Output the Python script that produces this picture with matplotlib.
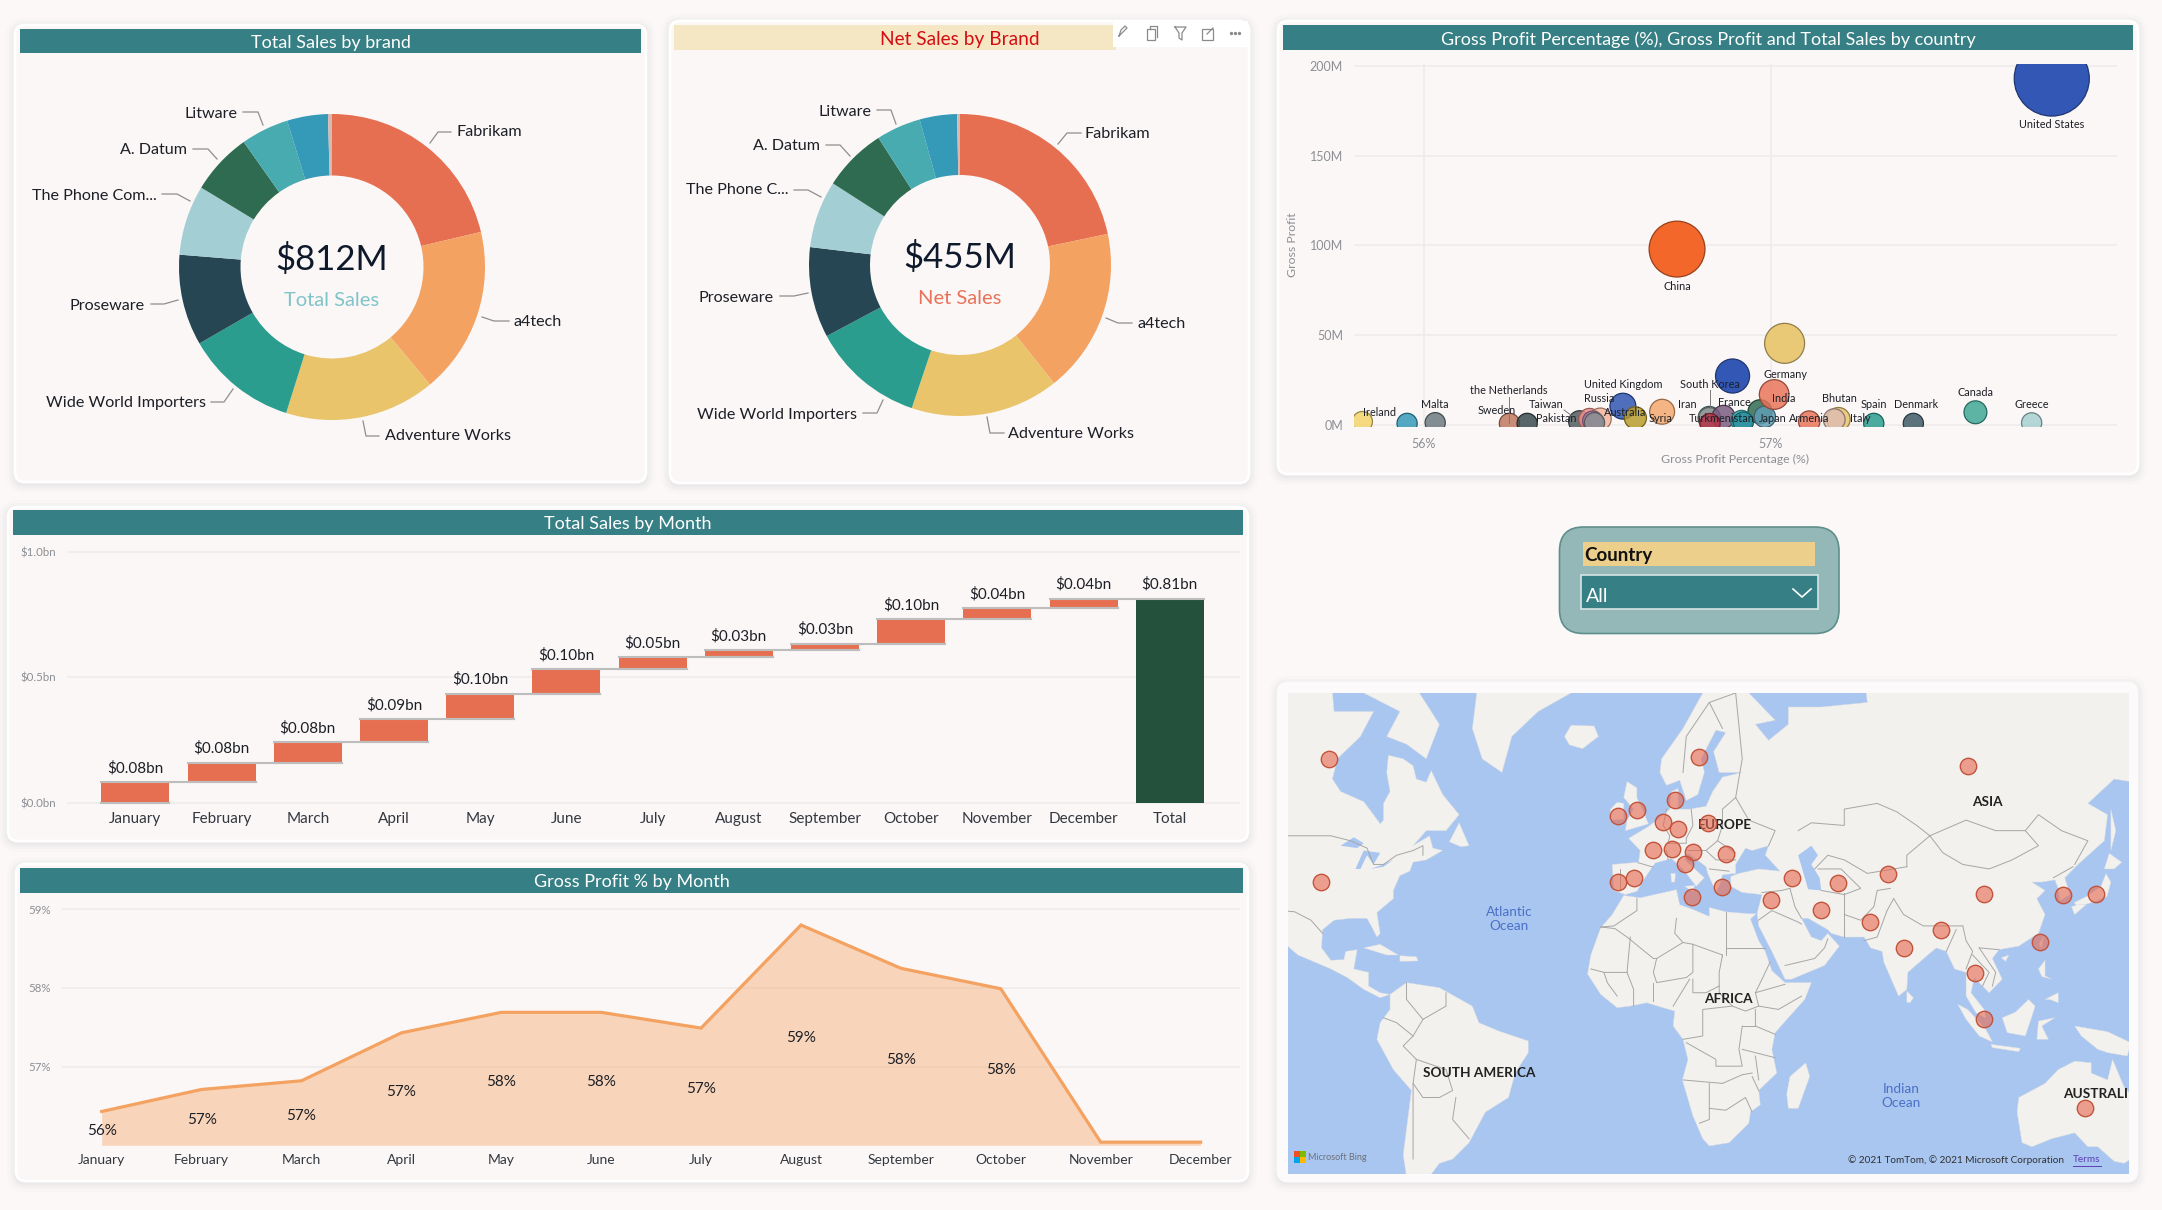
import numpy as np
import matplotlib
matplotlib.use("Agg")
import matplotlib.pyplot as plt
from matplotlib.patches import FancyBboxPatch, Rectangle, Polygon
from matplotlib.colors import to_rgba, to_rgb

plt.rcParams['font.family'] = ['Lato', 'DejaVu Sans']

W, H = 2162, 1210
PAGE = '#FBF8F7'
PANEL = '#FBF7F6'
TEAL = '#367F84'
INK = '#1C1F26'
GRID = '#EFEDEB'
TICK = '#8C8F94'

# ---------- data ----------
brands = ['Fabrikam', 'a4tech', 'Adventure Works', 'Wide World Importers', 'Proseware',
          'The Phone Company', 'A. Datum', 'Litware', 'Northwind', 'Contoso']
total_sales_brand = [173, 143, 129, 96, 78, 60, 53, 41, 35, 3.4]
net_sales_brand = [98.7, 80.1, 72.2, 54.7, 44.1, 32.7, 31.1, 21.7, 18.2, 1.4]
brand_colors = ['#E76F51', '#F4A261', '#E9C46A', '#2A9D8F', '#264653',
                '#A3CFD4', '#2E6B50', '#47ABB0', '#3599B8', '#D9B8B0']

months = ['January', 'February', 'March', 'April', 'May', 'June', 'July', 'August',
          'September', 'October', 'November', 'December']
monthly_sales_bn = [.082, .078, .080, .094, .101, .098, .048, .027, .026, .097, .043, .039]
gross_profit_pct = [56.43, 56.71, 56.82, 57.43, 57.69, 57.69, 57.49, 58.80, 58.25, 57.99, 56.04, 56.04]
gross_profit_lbl = ['56%', '57%', '57%', '57%', '58%', '58%', '57%', '59%', '58%', '58%', '', '']

bubble_country = ['Ireland', 'Portugal', 'Malta', 'the Netherlands', 'Sweden', 'Taiwan', 'Russia',
                  'Poland', 'Austria', 'Pakistan', 'United Kingdom', 'Australia', 'Syria', 'Iran',
                  'South Korea', 'Switzerland', 'Turkmenistan', 'Thailand', 'Singapore', 'Romania',
                  'Japan', 'Armenia', 'Bhutan', 'Italy', 'Spain', 'Denmark', 'Canada', 'Greece',
                  'India', 'France', 'Germany', 'China', 'United States']
bubble_gpp = [55.823, 55.952, 56.033, 56.247, 56.298, 56.449, 56.478, 56.509, 56.487, 56.492, 56.574,
              56.610, 56.687, 56.823, 56.823, 56.864, 56.825, 56.969, 56.916, 56.921, 56.983, 57.111,
              57.195, 57.183, 57.297, 57.411, 57.590, 57.752, 57.010, 56.890, 57.040, 56.730, 57.810]
bubble_gp = [1.9, 0.9, 1.3, 0.9, 0.9, 1.9, 3.2, 3.4, 2.2, 1.3, 10.5,
             4.0, 7.4, 4.2, 3.6, 4.6, 0.8, 7.4, 2.2, 1.6, 4.6, 1.9,
             3.2, 3.0, 0.9, 0.9, 7.1, 1.2, 17.0, 27.3, 45.5, 98.0, 193.0]
bubble_sales = [25, 25, 25, 25, 25, 29, 29, 29, 25, 25, 41, 30, 38, 30, 30, 32, 25, 35, 28, 25, 28, 28,
                34, 29, 25, 25, 32, 25, 54, 71, 98, 191, 345]
bubble_color = ['#F4D56A', '#3599B8', '#6B7A7E', '#C0785F', '#3A4A4E', '#4F5B5E', '#F08F88',
                '#F4B59A', '#B07CB0', '#8A8F90', '#2E54B0', '#B89B2C', '#F4A86E', '#4F8A8E',
                '#9A9A9A', '#7A5A80', '#B5344A', '#2F6B50', '#3AB0B0', '#2A8FA0', '#5F9DB5',
                '#E8745A', '#E8C46A', '#DDBDB0', '#2A9D8F', '#3E5A66', '#3FA796', '#A8D0D0',
                '#E8745A', '#3257B5', '#E9C976', '#F4672A', '#3257B5']

map_lon = [-95.6, -98, 17, 98.7, 9.5, -7.7, -2, 6, 10.6, 19.6, 2.8, 8.7, 15, 12.5, 25, -3, -7.7, 24, 14.7,
           45, 38.6, 54, 59, 74.4, 68.7, 79.2, 90.3, 103.4, 100.6, 120.5, 127.3, 137.5, 103.4, 134]
map_lat = [62, 39, 62.2, 60.9, 55.6, 52.7, 53.8, 51.6, 50.4, 51.5, 46.1, 46.3, 45.6, 43, 45.2, 39.9, 39.1, 37.8, 35.5,
           39.9, 34.6, 32.2, 38.7, 40.9, 29, 22, 27, 36.1, 14.9, 23.7, 36, 36.1, 1.2, -25]

# ---------- layout helpers ----------
fig = plt.figure(figsize=(W / 100, H / 100), dpi=100, facecolor=PAGE)


def px_axes(x0, y0, x1, y1, z=1):
    ax = fig.add_axes([x0 / W, 1 - y1 / H, (x1 - x0) / W, (y1 - y0) / H], zorder=z)
    return ax


bg = px_axes(0, 0, W, H, 0)
bg.set_xlim(0, W); bg.set_ylim(H, 0); bg.axis('off')
fg = px_axes(0, 0, W, H, 5)
fg.set_xlim(0, W); fg.set_ylim(H, 0); fg.axis('off'); fg.patch.set_alpha(0)


def panel(x0, y0, x1, y1, face=PANEL, edge='white', shadow='#6E7A8C', rad=10):
    for g, a in zip((9, 6, 4, 2), (.018, .022, .028, .035)):
        bg.add_patch(FancyBboxPatch((x0 - g, y0 - g + 2), x1 - x0 + 2 * g, y1 - y0 + 2 * g,
                                    boxstyle=f'round,pad=0,rounding_size={rad + g}',
                                    fc=shadow, ec='none', alpha=a))
    bg.add_patch(FancyBboxPatch((x0, y0), x1 - x0, y1 - y0, boxstyle=f'round,pad=0,rounding_size={rad}',
                                fc=face, ec=edge, lw=2))


def title(x0, y0, x1, y1, text, fc=TEAL, color='white', tx=None, size=13):
    bg.add_patch(Rectangle((x0, y0), x1 - x0, y1 - y0, fc=fc, ec='none'))
    fg.text(tx if tx else (x0 + x1) / 2, (y0 + y1) / 2 + 2, text, color=color, fontsize=size, ha='center', va='center')


panel(15, 25, 646, 482)
panel(670, 21, 1249, 483)
panel(1278, 21, 2138, 474)
panel(8, 507, 1248, 841)
panel(16, 864, 1248, 1181)
panel(1278, 683, 2137, 1181, face='#FCFAFA', edge='#FCFAFA')

title(20, 29, 641, 53, 'Total Sales by brand')
title(674, 25, 1116, 50, 'Net Sales by Brand', fc='#F6E7C4', color='#D40D12', tx=960, size=13.8)
title(1283, 25, 2133, 50, 'Gross Profit Percentage (%), Gross Profit and Total Sales by country', size=13)
title(13, 510, 1243, 535, 'Total Sales by Month')
title(20, 868, 1243, 893, 'Gross Profit % by Month')


# ---------- donuts ----------
def donut(cx, cy, ro, ri, vals, big, small, small_col, labels):
    ax = px_axes(cx - ro, cy - ro, cx + ro, cy + ro)
    ax.pie(vals, colors=brand_colors, startangle=90, counterclock=False, radius=1,
           wedgeprops=dict(width=1 - ri / ro, linewidth=0))
    ax.set_xlim(-1, 1); ax.set_ylim(-1, 1); ax.set_aspect('equal')
    fg.text(cx, cy - 8, big, fontsize=25, color='#0E1A2B', ha='center', va='center')
    fg.text(cx, cy + 33, small, fontsize=14.5, color=small_col, ha='center', va='center')
    for txt, tx, ty, ha, pts in labels:
        fg.text(tx, ty + 1.5, txt, fontsize=11.6, color=INK, ha=ha, va='center')
        fg.plot(*zip(*pts), color='#8E8E8E', lw=.9)


donut(332, 267, 153, 91.5, total_sales_brand, '$812M', 'Total Sales', '#7FC4C9', [
    ('Fabrikam', 457, 131, 'left', [(430, 143), (438, 132), (451, 132)]),
    ('a4tech', 514, 321, 'left', [(482, 317), (494, 321), (509, 321)]),
    ('Adventure Works', 385, 435, 'left', [(363, 421), (366, 436), (379, 436)]),
    ('Wide World Importers', 206, 401, 'right', [(233, 389), (224, 402), (211, 402)]),
    ('Proseware', 145, 304, 'right', [(178, 300), (164, 304), (151, 304)]),
    ('The Phone Com...', 157, 194, 'right', [(190, 201), (177, 194), (162, 194)]),
    ('A. Datum', 187, 148, 'right', [(217, 159), (208, 149), (193, 149)]),
    ('Litware', 238, 112, 'right', [(263, 125), (258, 112), (243, 112)]),
])
donut(960, 265, 151, 90, net_sales_brand, '$455M', 'Net Sales', '#E8735A', [
    ('Fabrikam', 1085, 133, 'left', [(1058, 144), (1067, 133), (1081, 133)]),
    ('a4tech', 1138, 322, 'left', [(1106, 318), (1118, 323), (1132, 323)]),
    ('Adventure Works', 1008, 432, 'left', [(987, 417), (990, 433), (1004, 433)]),
    ('Wide World Importers', 857, 413, 'right', [(883, 400), (877, 413), (863, 413)]),
    ('Proseware', 774, 296, 'right', [(808, 293), (794, 296), (780, 296)]),
    ('The Phone C...', 789, 189, 'right', [(821, 197), (808, 190), (794, 190)]),
    ('A. Datum', 820, 145, 'right', [(850, 156), (840, 145), (826, 145)]),
    ('Litware', 871, 110, 'right', [(896, 124), (891, 110), (877, 110)]),
])

# header icons of the focused visual
bg.add_patch(Rectangle((1113, 21), 135, 26, fc='white', ec='none'))
icon = '#8A8A8A'
fg.plot([1119, 1127, 1125, 1121, 1119], [36, 28, 26, 30, 36], color=icon, lw=.9)
fg.add_patch(Rectangle((1147, 29), 8, 11, fc='none', ec=icon, lw=.9))
fg.plot([1150, 1150, 1157, 1157], [29, 26, 26, 37], color=icon, lw=.9)
fg.plot([1175, 1186, 1182, 1182, 1179, 1179, 1175], [27, 27, 33, 40, 38, 33, 27], color=icon, lw=.9)
fg.add_patch(Rectangle((1202, 29), 11, 11, fc='none', ec=icon, lw=.9))
fg.plot([1207, 1213], [34, 28], color=icon, lw=.9)
fg.plot([1231, 1235, 1239], [33, 33, 33], ls='none', marker='o', ms=1.4, color=icon)

# ---------- bubble chart ----------
ax = px_axes(1354, 64, 2117, 427)
ax.set_facecolor('none')
ax.set_xlim(55.799, 57.998)
ax.set_ylim(-1.1, 201.1)
for s in ax.spines.values():
    s.set_visible(False)
ax.set_xticks([56, 57], ['56%', '57%'])
ax.set_yticks([0, 50, 100, 150, 200], ['0M', '50M', '100M', '150M', '200M'])
ax.tick_params(length=0, labelsize=9, labelcolor=TICK, pad=8)
ax.grid(True, color=GRID, lw=1.3)
ax.set_axisbelow(True)
sizes = [(2 * 2.02 * np.sqrt(v) * 0.72) ** 2 for v in bubble_sales]
faces = [to_rgba(c, 1 if v > 60 else .84) for c, v in zip(bubble_color, bubble_sales)]
edges = [tuple(np.array(to_rgb(c)) * .62) for c in bubble_color]
ax.scatter(bubble_gpp, bubble_gp, s=sizes, facecolors=faces, edgecolors=edges, linewidths=.9, zorder=3)

bubble_labels = {
    'United States': (2052, 124), 'China': (1677, 285), 'Germany': (1786, 373), 'France': (1734, 402),
    'South Korea': (1710, 383), 'India': (1784, 398), 'United Kingdom': (1623, 384), 'Russia': (1599, 397),
    'Australia': (1625, 412), 'Syria': (1661, 417), 'Iran': (1687, 403), 'Turkmenistan': (1722, 418),
    'Japan': (1773, 418), 'Armenia': (1809, 418), 'Bhutan': (1839, 398), 'Italy': (1860, 418),
    'Spain': (1874, 404), 'Denmark': (1916, 404), 'Canada': (1975, 391), 'Greece': (2032, 404),
    'the Netherlands': (1509, 390), 'Sweden': (1497, 409), 'Taiwan': (1546, 403), 'Pakistan': (1556, 417),
    'Ireland': (1379, 411), 'Malta': (1435, 404),
}
for name, (lx, ly) in bubble_labels.items():
    fg.text(lx, ly + 1, name, fontsize=7.8, color=INK, ha='center', va='center')
fg.plot([1509, 1509], [397, 423], color='#7A7A7A', lw=.7)
fg.plot([1710, 1710], [390, 408], color='#7A7A7A', lw=.7)
fg.plot([1564, 1575], [410, 418], color='#7A7A7A', lw=.7)
fg.text(1293, 245, 'Gross Profit', fontsize=8.8, color=TICK, rotation=90, ha='center', va='center')
fg.text(1735, 459, 'Gross Profit Percentage (%)', fontsize=8.8, color=TICK, ha='center', va='center')

# ---------- waterfall ----------
ax = px_axes(67, 545, 1240, 808)
ax.set_facecolor('none')
ax.set_xlim((67 - 135.4) / 86.2, (1240 - 135.4) / 86.2)
ax.set_ylim((802.7 - 808) / 251, (802.7 - 545) / 251)
for s in ax.spines.values():
    s.set_visible(False)
vals = np.array(monthly_sales_bn)
cum = np.cumsum(vals)
bottoms = cum - vals
xs = np.arange(len(vals))
BW = 68 / 86.2
ax.set_yticks([0, .5, 1], ['$0.0bn', '$0.5bn', '$1.0bn'])
ax.set_xticks(np.arange(13), months + ['Total'])
ax.tick_params(axis='y', length=0, labelsize=8.3, labelcolor=TICK, pad=8)
ax.tick_params(axis='x', length=0, labelsize=11, labelcolor='#333840', pad=3)
ax.yaxis.grid(True, color=GRID, lw=1.3)
ax.set_axisbelow(True)
ax.bar(xs, vals, bottom=bottoms, width=BW, color='#E76F51', zorder=2)
ax.bar([12], [cum[-1]], width=BW, color='#23513B', zorder=2)
for i in range(12):
    ax.plot([i - BW / 2, i + 1 + BW / 2 if i < 11 else 12 + BW / 2], [cum[i], cum[i]], color='#BDBDBD', lw=1.5, zorder=3)
    ax.plot([i - BW / 2, i + BW / 2], [bottoms[i], bottoms[i]], color='#BDBDBD', lw=1.5, zorder=3)
    ax.annotate(f'${vals[i]:.2f}bn', (i, cum[i]), xytext=(0, 10), textcoords='offset points',
                ha='center', va='center', fontsize=11, color=INK, zorder=6)
ax.annotate(f'${cum[-1]:.2f}bn', (12, cum[-1]), xytext=(0, 10), textcoords='offset points',
            ha='center', va='center', fontsize=11, color=INK, zorder=6)

# ---------- area chart ----------
ax = px_axes(62, 900, 1240, 1146)
ax.set_facecolor('none')
ax.set_xlim((62 - 101.7) / 99.9, (1240 - 101.7) / 99.9)
ax.set_ylim(56 - (1146 - 1145.3) / 78.6, 59 + (909.3 - 900) / 78.6)
for s in ax.spines.values():
    s.set_visible(False)
gp = np.array(gross_profit_pct)
xm = np.arange(12)
ax.set_xticks(xm, months)
ax.set_yticks([57, 58, 59], ['57%', '58%', '59%'])
ax.tick_params(axis='y', length=0, labelsize=8.3, labelcolor=TICK, pad=8)
ax.tick_params(axis='x', length=0, labelsize=10, labelcolor='#333840', pad=6)
ax.yaxis.grid(True, color=GRID, lw=1.3)
ax.set_axisbelow(True)
ax.fill_between(xm, 56, gp, color='#F4A261', alpha=.4, lw=0, zorder=2)
ax.plot(xm, gp, color='#F4A261', lw=2.3, zorder=3, solid_joinstyle='miter')
for i, t in enumerate(gross_profit_lbl):
    ax.annotate(t, (i, (gp[i] + 56) / 2), xytext=(0, -2), textcoords='offset points', ha='center', va='center',
                fontsize=11, color=INK, zorder=6)

# ---------- slicer ----------
bg.add_patch(FancyBboxPatch((1559.5, 527), 279.5, 106.5, boxstyle='round,pad=0,rounding_size=24',
                            fc='#94B8B8', ec='#5F8F8A', lw=1.2))
bg.add_patch(Rectangle((1583, 542), 232, 24, fc='#EBCF8B', ec='none'))
fg.text(1584, 556, 'Country', fontsize=13.5, fontweight='bold', color='#111111', ha='left', va='center')
bg.add_patch(Rectangle((1581, 575), 237, 34, fc=TEAL, ec='#D7E4E4', lw=1.2))
fg.text(1586, 596, 'All', fontsize=14, color='white', ha='left', va='center')
fg.plot([1793, 1802, 1811], [589, 597, 589], color='white', lw=1.2)

# ---------- map ----------
LAND = [
    [(-125, 72), (-95, 72), (-94, 68), (-88, 68), (-82, 68), (-86, 65), (-93, 62), (-94.5, 59), (-92, 57), (-85, 55.3),
     (-82, 53), (-80, 51.3), (-79, 52), (-79, 55), (-77, 57), (-78, 60), (-77.5, 62.5), (-73, 62), (-70, 61), (-69, 59),
     (-66, 58.5), (-64.5, 60.3), (-61, 56.5), (-56, 53), (-60, 50), (-66, 50), (-70, 47), (-65, 49), (-64, 46.5),
     (-61, 46), (-66, 44), (-70, 43.5), (-71, 41.5), (-74, 40.5), (-76, 37), (-76, 35), (-81, 31.5), (-80, 26), (-81, 25),
     (-82.7, 28), (-84, 30), (-89, 30), (-94, 29.5), (-97.5, 27), (-97.8, 22), (-95, 18.5), (-91, 18.7), (-90.5, 21),
     (-87, 21.5), (-88, 16), (-83.5, 15), (-83.5, 11), (-80, 9), (-77, 8.5), (-80, 7.5), (-85, 10), (-90, 13.5), (-95, 16),
     (-105, 20), (-110, 24), (-125, 24)],
    [(-50, 72), (-51, 69), (-52, 66), (-49, 62), (-43, 60), (-40, 65), (-32, 68), (-22, 70), (-20, 75), (-40, 80)],
    [(-24, 65), (-22, 66.4), (-15, 66.3), (-13.7, 65), (-18.5, 63.4), (-22.5, 63.9)],
    [(-80, 73), (-70, 71), (-62, 66.5), (-66, 62), (-72, 64), (-78, 65), (-74, 68), (-85, 70)],
    [(-59, 47.8), (-56, 51.5), (-53, 47), (-55.5, 46.8)],
    [(-77, 8.5), (-72, 12), (-62, 10.5), (-52, 5), (-50, 0), (-44, -2.5), (-35, -5.5), (-35, -9), (-39, -15), (-41, -22),
     (-48, -26), (-53, -34), (-58, -38), (-62, -39), (-65, -42), (-72, -42), (-73, -37), (-70.5, -20), (-76, -14), (-81, -5),
     (-80, 0), (-77, 4)],
    [(-85, 22), (-80, 23), (-74.5, 20), (-78, 20)],
    [(-74, 19.8), (-69, 19.5), (-68.5, 18.3), (-74, 18.2)],
    [(-6, 35.8), (-1, 35.2), (10, 37.2), (11, 33.5), (15, 32.3), (20, 30.5), (20, 32.8), (25, 31.7), (32, 31.2), (34.2, 31.2),
     (32.5, 29.8), (35, 24), (37, 21), (39, 15.5), (43, 12), (51, 12), (49, 7), (44, 1.5), (40, -3), (39, -8), (40.5, -15),
     (35, -20), (35.5, -24), (32.5, -26), (32, -29), (26, -34), (20, -34.8), (18, -33), (15, -27), (11.8, -17), (13.5, -11),
     (12, -5), (9, -1), (9.5, 3.5), (6, 4.5), (1, 6), (-4, 5), (-8, 4.5), (-13, 8.5), (-17, 14.5), (-16, 20), (-13, 27.5),
     (-9.5, 31)],
    [(49.3, -12), (50.5, -16), (47, -25), (44, -25), (43.5, -21), (44.5, -16)],
    [(-9, 37), (-9.5, 43), (-1.5, 43.5), (-1, 46), (-4.5, 48.5), (1.5, 50.8), (4, 52), (8, 54), (8.5, 57), (10.5, 57.5),
     (10.5, 54), (14, 54), (19, 54.5), (21, 57), (24, 59.3), (30, 60), (23, 60), (21.3, 63), (25, 65.5), (22, 65.8),
     (17.5, 62), (18.5, 60), (16.5, 56.5), (13, 55.5), (11, 58.8), (7, 58), (5, 60), (5.5, 62), (12, 66), (18, 70),
     (25, 71.2), (32, 70), (40, 67), (34, 66.5), (38, 64.5), (44, 66.5), (44, 68.5), (54, 68.5), (68, 69), (67, 72),
     (73, 72), (80, 73), (100, 78), (113, 74), (130, 72), (140, 73), (180, 70), (180, 62), (163, 60), (156, 51), (155, 58),
     (143, 59), (135, 55), (141, 53), (140, 48), (132, 43), (128, 40), (129.5, 36), (126.5, 34.5), (126, 37.5), (125, 39.5),
     (121, 39), (118, 39), (122, 37), (119.5, 35), (122, 31), (120, 26), (114, 22.5), (108, 21.5), (106, 19), (109, 13),
     (105, 9), (103, 11), (100.5, 13.5), (99.5, 9), (103.5, 4), (104, 1.4), (101, 3), (98, 8), (98, 15), (94.5, 16), (92, 21),
     (89, 22), (87, 20.5), (80.3, 15), (80, 10), (77.5, 8), (73, 18), (72.5, 21), (69, 22), (67, 25), (61, 25), (57, 26),
     (56, 27), (50, 30), (48, 30), (51, 25), (54, 24), (56, 26), (59.5, 22.5), (55, 17), (45, 13), (43, 13), (39, 21),
     (35, 28), (34.5, 31.3), (36, 36), (30, 36.5), (26.5, 38), (26.5, 40.3), (29, 41), (35, 42), (41.5, 41.5), (37, 45),
     (38, 47), (33, 46), (31, 46.5), (28, 43), (28, 41), (24, 40.7), (23, 38), (22, 36.7), (19.5, 41), (19, 42.5),
     (13.5, 45.5), (12.5, 44), (18.5, 40), (16, 38), (12, 42), (8.5, 44.3), (3.5, 43.3), (0, 39.5), (-2, 36.8), (-5.5, 36)],
    [(-5.5, 50), (1.5, 51.3), (0, 53.5), (-2, 56), (-2, 57.6), (-5, 58.6), (-6, 56), (-3, 54), (-5, 52)],
    [(-10, 52), (-6, 52.2), (-6, 55), (-8, 55.2), (-10, 54)],
    [(12.5, 38), (15.5, 38.2), (15, 36.7)],
    [(8.3, 41), (9.7, 41), (9.5, 39), (8.5, 39)],
    [(130.8, 34), (135, 35.7), (139, 38), (140.5, 41), (142, 39), (140.8, 35.5), (136, 34), (132, 33)],
    [(130, 33), (132, 33.5), (134.5, 33.5), (131, 31)],
    [(140, 42), (141.5, 45.4), (145.3, 43.5), (143, 42)],
    [(142, 46), (142, 54), (143.5, 50)],
    [(120.2, 23), (121.5, 25.2), (121, 22)],
    [(108.7, 19.2), (111, 20), (110, 18.2)],
    [(120, 16), (122, 18.5), (122, 14), (124, 13), (121, 13.8)],
    [(122, 7), (126, 9), (126, 6), (123.5, 7)],
    [(95.5, 5.5), (98.5, 4), (104, -2), (106, -5.8), (102, -4), (98, 1)],
    [(105.5, -6.5), (114.5, -7.7), (114, -8.7), (106, -7.5)],
    [(109, 1.5), (113, 3.2), (117, 7), (119, 5), (117.7, 1), (116, -4), (110.5, -3)],
    [(119.5, -5), (120, .5), (125, 1.5), (121, -1), (123, -5)],
    [(131, -1), (141, -2.7), (148, -6), (147, -10), (141, -9), (138, -8), (133, -4)],
    [(80, 9.5), (82, 7.5), (81, 6), (80, 6.2)],
    [(114, -22), (122, -18), (126, -14), (131, -11.5), (136, -12), (136, -15), (141, -17), (142.5, -11), (146, -19),
     (153, -26), (153, -31), (150, -37), (146, -39), (143, -38.5), (138, -35), (135, -35), (131, -31.5), (124, -33),
     (118, -35), (115, -34), (113.5, -26)],
]
WATER = [
    [(-92, 47), (-88, 48.7), (-85, 47.5), (-87, 46.5)],
    [(-87.5, 42), (-85, 46), (-80, 45.5), (-82, 43), (-84, 45), (-86, 42)],
    [(-83, 42), (-79, 43), (-76, 44), (-79, 42.5)],
    [(47, 45), (51, 47), (53, 45), (51, 43), (53.5, 40), (54, 37), (50, 37.3), (49, 40)],
]
BORDERS = [
    [(-125, 49), (-95, 49), (-89, 48), (-84, 46.5), (-82, 43), (-79, 43), (-75, 45), (-70, 46), (-67, 47), (-67, 45)],
    [(-117, 32.5), (-106, 31.7), (-101, 29.5), (-97.5, 26)],
    [(-2, 35), (-2, 32), (-9, 28), (-13, 27.7)],
    [(-13, 27.7), (-8.7, 27.3), (-5, 25), (3, 19), (4, 19), (12, 23.5), (15, 23), (24, 20), (24, 19.5)],
    [(10, 30), (9.5, 26), (12, 23.5)], [(25, 31.7), (25, 20)], [(25, 22), (36.8, 22)],
    [(15, 23), (15, 15), (13, 13.5), (4, 12), (3, 15), (4, 19)],
    [(-12, 15), (-5, 15), (-4, 25)], [(-16, 16), (-12, 15), (-11, 12), (-8, 8)], [(-5, 15), (-3, 10), (-3, 5)],
    [(24, 20), (23, 15), (23, 9), (27, 5), (31, 3.5), (35, 5), (34, 9), (36.5, 14), (38.5, 18)],
    [(15, 13), (15, 9), (19, 9), (23, 11)], [(34, 9), (43, 11.5)], [(35, 5), (41, 4), (48, 8)],
    [(3, 6.5), (3, 12)], [(14, 13), (9, 5)],
    [(12, -5), (18, -4), (18, 4), (27, 5)], [(30, -1), (29, -8), (30, -13), (22, -13), (22, -11), (13, -6)],
    [(34, 4), (34, -1), (40, -3.5)], [(30, -1), (34, -1)], [(30, -8), (40, -10.5)],
    [(12, -17), (24, -18)], [(20, -18), (20, -28), (17, -29)], [(20, -25), (25, -25.5), (31, -22), (33, -26)],
    [(24, -18), (30, -15.5), (33, -15)], [(35, -20), (33, -16)], [(34, -10), (35, -17)],
    [(36, 36.5), (42, 37), (44.5, 37.5)], [(44.5, 37.5), (46, 33), (48, 30)], [(34.9, 29.5), (39, 32), (47, 29), (48, 28.5)],
    [(43, 17), (52, 19), (55, 22), (56, 24.5)], [(61, 25), (61, 31), (61, 36.5)], [(53, 42), (60, 42), (66, 37.5), (61, 36)],
    [(54, 37), (61, 36)], [(52, 42), (56, 45), (61, 44), (68, 41), (80, 42.5)],
    [(47, 50), (51, 51.5), (61, 51), (61, 54), (71, 55), (77, 53.5), (83, 51), (87, 49)], [(87, 49), (80, 45), (80, 42.5)],
    [(61, 31), (66, 29.5), (70, 33), (71, 37), (75, 37.5)], [(67, 24), (71, 25), (74, 32), (76, 35)],
    [(76, 35), (79, 31), (85, 28), (92, 28), (97, 28)], [(97, 28), (98, 24), (100, 21), (98, 16)], [(92, 21), (95, 27)],
    [(100, 20), (105, 15), (103, 11)], [(102, 22), (108, 21.5)], [(102, 22), (107, 15), (106, 11)],
    [(87, 49), (98, 52), (107, 50), (116, 50), (120, 47), (112, 44), (105, 42), (97, 43), (91, 45.5), (87, 49)],
    [(116, 50), (120, 53), (127, 50), (135, 48), (131, 43)], [(124.5, 40), (130.5, 42.5)],
    [(28, 70), (30, 62), (28, 56), (32, 52), (40, 50), (38, 47)], [(24, 51), (22.5, 48), (28, 45.5)], [(24, 51), (24, 54), (28, 56)],
    [(7, 54), (6, 51), (8, 49), (7.5, 47.5), (13, 47.5), (13, 48.5), (15, 51), (14.5, 54)], [(-1.7, 43.4), (3, 42.4)],
    [(12, 60), (13, 65), (20, 69), (28, 70)], [(24, 66), (20, 69)], [(13.5, 46), (19, 46), (22.5, 48)], [(19, 46), (22, 44), (28, 44)],
    [(20, 42), (26, 41.5)], [(-7, 37), (-7, 42)], [(7.5, 44), (7, 46)],
    [(-70, -18), (-69, -11), (-73, -7), (-70, -4), (-75, 0), (-79, 1.5)], [(-70, -4), (-67, 1), (-60, 5), (-60, 9)],
    [(-57, -22), (-58, -28), (-53, -33)], [(-69, -11), (-60, -14), (-58, -20), (-62, -22), (-67, -22), (-70, -18), (-70, -38)],
    [(-72, 12), (-72, 7), (-67, 1)],
]


def merc(lat):
    return np.arcsinh(np.tan(np.radians(lat)))


def proj(pts):
    a = np.array(pts, float)
    return np.column_stack([a[:, 0], merc(a[:, 1])])


ax = px_axes(1288, 693, 2129, 1174)
ax.set_facecolor('#A9C6F0')
ax.set_xlim(-108, 147.5)
ax.set_ylim((1022.7 - 1174) / 190, (1022.7 - 693) / 190)
ax.set_xticks([]); ax.set_yticks([])
for s in ax.spines.values():
    s.set_visible(False)
for poly in LAND:
    ax.add_patch(Polygon(proj(poly), closed=True, fc='#F2F1EE', ec='#DADCE0', lw=.3))
for poly in WATER:
    ax.add_patch(Polygon(proj(poly), closed=True, fc='#A9C6F0', ec='none'))
for line in BORDERS:
    p = proj(line)
    ax.plot(p[:, 0], p[:, 1], color='#A6A6A6', lw=.7)


def maptext(x, y, t, size, color='#222222', weight='bold', **k):
    ax.annotate(t, (x, y), xycoords=fg.transData, ha='center', va='center', fontsize=size, color=color,
                fontweight=weight, annotation_clip=False, clip_on=True, **k)


maptext(1509, 919, 'Atlantic\nOcean', 9.8, '#4A70C8', 'normal')
maptext(1901, 1096, 'Indian\nOcean', 9.8, '#4A70C8', 'normal')
maptext(1987, 802, 'ASIA', 9.8)
maptext(1725, 825, 'EUROPE', 9.8)
maptext(1728, 999, 'AFRICA', 9.8)
maptext(1479, 1073, 'SOUTH AMERICA', 9.8)
maptext(2096, 1094, 'AUSTRALI', 9.8)

ax.scatter(map_lon, merc(np.array(map_lat)), s=(2 * 8.2 * .72) ** 2, facecolors=to_rgba('#E8684E', .6),
           edgecolors='#C2543C', linewidths=1, zorder=4)

for (qx, qy, c) in [(1294, 1151, '#F25022'), (1300, 1151, '#7FBA00'), (1294, 1157, '#00A4EF'), (1300, 1157, '#FFB900')]:
    fg.add_patch(Rectangle((qx, qy), 5.5, 5.5, fc=c, ec='none'))
fg.text(1308, 1157, 'Microsoft Bing', fontsize=6.5, color='#6E7276', ha='left', va='center')
fg.text(2064, 1160, '© 2021 TomTom, © 2021 Microsoft Corporation', fontsize=7.2, color='#303030', ha='right', va='center')
fg.text(2073, 1160, 'Terms', fontsize=7.2, color='#5B3FB5', ha='left', va='center')
fg.plot([2073, 2101], [1166, 1166], color='#5B3FB5', lw=.7)

fg.set_xlim(0, W); fg.set_ylim(H, 0)
fig.savefig('out.png', dpi=100, facecolor=PAGE)
